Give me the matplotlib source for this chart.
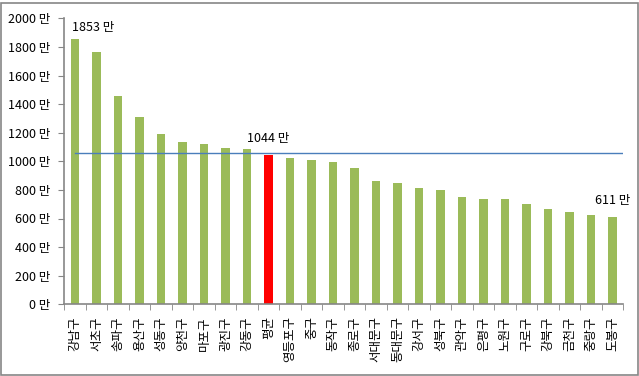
import matplotlib
matplotlib.use('Agg')
import matplotlib.pyplot as plt
import matplotlib.patches as patches
import numpy as np

plt.rcParams['font.family'] = ['Noto Sans CJK KR', 'DejaVu Sans']

districts = ['강남구', '서초구', '송파구', '용산구', '성동구', '양천구', '마포구', '광진구',
             '강동구', '평균', '영등포구', '중구', '동작구', '종로구', '서대문구', '동대문구',
             '강서구', '성북구', '관악구', '은평구', '노원구', '구로구', '강북구', '금천구',
             '중랑구', '도봉구']
income = [1853, 1764, 1457, 1310, 1191, 1135, 1121, 1093, 1086, 1044, 1023, 1009, 995,
          953, 862, 848, 813, 797, 752, 736, 736, 701, 666, 645, 624, 611]
avg_line = 1056
y_ticks = list(range(0, 2001, 200))

green = '#9BBB59'
red = '#FF0000'
grey = '#868686'

fig = plt.figure(figsize=(6.39, 3.76), dpi=100)
ax = fig.add_axes([64.3 / 639, 71.7 / 376, 559 / 639, 286 / 376])

x = np.arange(len(districts))
colors = [red if d == '평균' else green for d in districts]
ax.bar(x, income, width=0.39, color=colors, zorder=2)

# 평균 기준선
ax.plot([0, len(districts) - 0.5], [avg_line, avg_line], color='#4A7EBB', lw=1.0, zorder=3)

ax.set_xlim(-0.5, len(districts) - 0.5)
ax.set_ylim(0, 2000)

ax.set_yticks(y_ticks)
ax.set_yticklabels([f'{v} 만' for v in y_ticks], fontsize=9)
ax.tick_params(axis='y', length=4, color=grey, pad=6)

ax.set_xticks(x)
ax.set_xticklabels(districts, rotation=90, fontsize=9, va='top', ha='center')
ax.set_xticks(np.arange(-0.5, len(districts)), minor=True)
ax.tick_params(axis='x', which='major', length=0, pad=8.5)
ax.tick_params(axis='x', which='minor', length=4, color=grey)

for side in ['top', 'right']:
    ax.spines[side].set_visible(False)
for side in ['left', 'bottom']:
    ax.spines[side].set_color(grey)
    ax.spines[side].set_linewidth(1.2)

# 값 라벨
ax.annotate(f'{income[0]} 만', xy=(0, income[0]), xytext=(-2.5, 4),
            textcoords='offset points', ha='left', va='bottom', fontsize=9)
i_avg = districts.index('평균')
ax.annotate(f'{income[i_avg]} 만', xy=(i_avg, income[i_avg]), xytext=(0, 7.5),
            textcoords='offset points', ha='center', va='bottom', fontsize=9)
ax.annotate(f'{income[-1]} 만', xy=(len(districts) - 1, income[-1]), xytext=(0, 7.5),
            textcoords='offset points', ha='center', va='bottom', fontsize=9)

fig.patches.append(patches.Rectangle((0.5 / 639, 1.5 / 376), 637.5 / 639, 372 / 376,
                                     transform=fig.transFigure, fill=False,
                                     edgecolor=grey, linewidth=1.2))

fig.savefig('out.png', dpi=100)
